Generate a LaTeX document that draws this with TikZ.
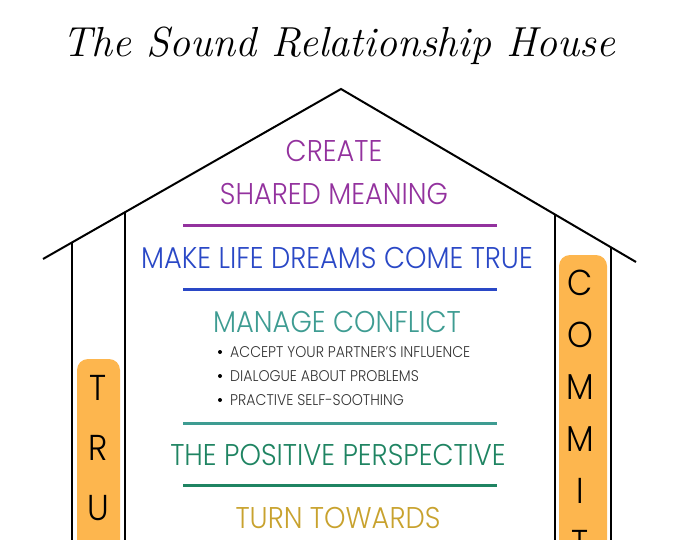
\documentclass[tikz,border=0pt]{standalone}
\usepackage{fontspec}
\setmainfont{Poppins}[UprightFont=* Light, FakeStretch=0.91]
\usetikzlibrary{positioning}

\definecolor{meaningpurple}{HTML}{93329E}
\definecolor{dreamblue}{HTML}{2A48C6}
\definecolor{conflictteal}{HTML}{3E9C92}
\definecolor{perspgreen}{HTML}{1F8462}
\definecolor{towardsgold}{HTML}{C8A22E}
\definecolor{pillarorange}{HTML}{FDB64E}

\newcommand{\scripttitle}{\fontencoding{TU}\fontfamily{lmr}\fontshape{it}\selectfont}

\tikzset{
  wall/.style={line width=2pt, black},
  divider/.style={line width=3pt},
  level/.style={font=\fontsize{30}{30}\selectfont, inner sep=0pt},
  habit/.style={font=\fontsize{15.5}{15.5}\selectfont, text=black!80, inner sep=0pt, anchor=west},
  pillarletter/.style={font=\fontsize{36}{36}\selectfont, inner sep=0pt}
}

\begin{document}
\begin{tikzpicture}[x=1pt, y=-1pt]

\useasboundingbox (0,0) rectangle (680,540);
\clip (0,0) rectangle (680,540);

% Title
\node (title) at (339,46) {\scripttitle\fontsize{42}{42}\selectfont The Sound Relationship House};

% Pillars
\fill[pillarorange, rounded corners=11pt] (77,359) rectangle (120,580);
\fill[pillarorange, rounded corners=11pt] (559,255) rectangle (607,580);

\foreach \ch [count=\i] in {T,R,U}
  \node[pillarletter] (trust\i) at (98,328+60*\i) {\ch};
\foreach \ch [count=\i] in {C,O,M,M,I,T}
  \node[pillarletter] (commit\i) at (580,231+52*\i) {\ch};

% Roof and walls
\draw[wall, line join=miter] (43,259) -- (341,89) -- (636,262);
\draw[wall] (72,243) -- (72,545);
\draw[wall] (125,213) -- (125,545);
\draw[wall] (555,214) -- (555,545);
\draw[wall] (611,247) -- (611,545);

% Levels
\node[level, text=meaningpurple] (create) at (334,151) {CREATE};
\node[level, text=meaningpurple] (shared) at (334,194) {SHARED MEANING};
\draw[divider, meaningpurple] (183,226) -- (497,226);

\node[level, text=dreamblue] (dreams) at (337,258) {MAKE LIFE DREAMS COME TRUE};
\draw[divider, dreamblue] (183,289) -- (497,289);

\node[level, text=conflictteal] (conflict) at (337,322) {MANAGE CONFLICT};
\node[habit] (accept) at (230,352) {ACCEPT YOUR PARTNER'S INFLUENCE};
\node[habit] (dialogue) at (230,376) {DIALOGUE ABOUT PROBLEMS};
\node[habit] (soothe) at (230,400) {PRACTIVE SELF-SOOTHING};
\foreach \h in {accept,dialogue,soothe}
  \fill[black] ([xshift=-10pt]\h.west) circle (2pt);
\draw[divider, conflictteal] (183,423) -- (497,423);

\node[level, text=perspgreen] (positive) at (338,455) {THE POSITIVE PERSPECTIVE};
\draw[divider, perspgreen] (183,485) -- (497,485);

\node[level, text=towardsgold] (towards) at (338,518) {TURN TOWARDS};

\end{tikzpicture}
\end{document}
